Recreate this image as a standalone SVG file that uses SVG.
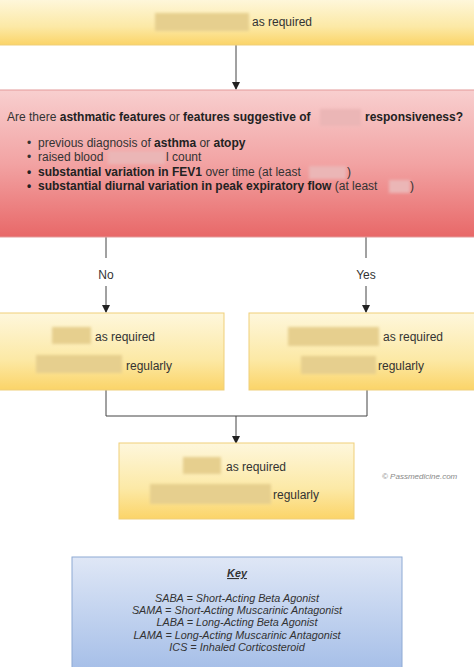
<svg xmlns="http://www.w3.org/2000/svg" width="474" height="667" viewBox="0 0 474 667">
<defs>
<linearGradient id="gy" x1="0" y1="0" x2="0" y2="1"><stop offset="0" stop-color="#fef7dc"/><stop offset="0.6" stop-color="#fce9a6"/><stop offset="1" stop-color="#fbd468"/></linearGradient>
<linearGradient id="gr" x1="0" y1="0" x2="0" y2="1"><stop offset="0" stop-color="#f8cfcf"/><stop offset="0.5" stop-color="#f2a3a3"/><stop offset="1" stop-color="#e86868"/></linearGradient>
<linearGradient id="gb" x1="0" y1="0" x2="0" y2="1"><stop offset="0" stop-color="#dfe7f6"/><stop offset="1" stop-color="#a6bfe8"/></linearGradient>
<filter id="blur" x="-20%" y="-40%" width="140%" height="180%"><feGaussianBlur stdDeviation="1.5"/></filter>
<marker id="arr" markerWidth="8" markerHeight="8" refX="7" refY="4" orient="auto" markerUnits="userSpaceOnUse"><path d="M0,0 L8,4 L0,8 z" fill="#222"/></marker>
</defs>
<style>
text{font-family:"Liberation Sans",Arial,sans-serif;fill:#333}
.t{font-size:12px}
.q{font-size:12px}
.b{font-weight:bold;fill:#222}
.yb{fill:url(#gy);stroke:#efcf7a;stroke-width:1}
.by{fill:#e6cf8e;filter:url(#blur)}
.br{fill:#ebb6b6;filter:url(#blur)}
.k{font-size:10.8px;font-style:italic;text-anchor:middle}
.ln{fill:none;stroke:#444;stroke-width:1}
</style>
<rect width="474" height="667" fill="#fff"/>
<g id="connectors">
<path class="ln" d="M236,45 V89" marker-end="url(#arr)"/>
<path class="ln" d="M106,237 V258 M106,286 V312" marker-end="url(#arr)"/>
<path class="ln" d="M366,237 V258 M366,286 V312" marker-end="url(#arr)"/>
<path class="ln" d="M106,390 V416 H367 V390"/>
<path class="ln" d="M236,416 V443" marker-end="url(#arr)"/>
<text class="t" x="106" y="279" text-anchor="middle" font-size="13">No</text>
<text class="t" x="366" y="279" text-anchor="middle" font-size="13">Yes</text>
</g>
<g id="n-top">
<rect class="yb" x="-1" y="-1" width="476" height="46"/>
<rect class="by" x="155" y="13" width="94" height="18"/>
<text class="t" x="252" y="26">as required</text>
</g>
<g id="n-question">
<rect x="-1" y="90" width="476" height="147" fill="url(#gr)" stroke="#e39a9a"/>
<rect class="br" x="320" y="109" width="41" height="17"/>
<text class="q" x="7" y="121">Are there <tspan class="b">asthmatic features</tspan> or <tspan class="b">features suggestive of</tspan></text>
<text class="q b" x="365" y="121">responsiveness?</text>
<g class="q">
<text x="27" y="147">•</text><text x="27" y="161">•</text><text x="27" y="176" class="b">•</text><text x="27" y="190" class="b">•</text>
</g>
<text class="q" x="38" y="147">previous diagnosis of <tspan class="b">asthma</tspan> or <tspan class="b">atopy</tspan></text>
<rect class="br" x="108" y="151" width="57" height="13"/>
<text class="q" x="38" y="161">raised blood</text>
<text class="q" x="166" y="161">l count</text>
<rect class="br" x="309" y="166" width="37" height="13"/>
<text class="q" x="38" y="176"><tspan class="b">substantial variation in FEV1</tspan> over time (at least</text>
<text class="q" x="347" y="176">)</text>
<rect class="br" x="389" y="180" width="21" height="13"/>
<text class="q" x="38" y="190"><tspan class="b">substantial diurnal variation in peak expiratory flow</tspan> (at least</text>
<text class="q" x="410" y="190">)</text>
</g>
<g id="n-no">
<rect class="yb" x="-1" y="313" width="225" height="77"/>
<rect class="by" x="52" y="327" width="39" height="17"/>
<text class="t" x="95" y="341">as required</text>
<rect class="by" x="36" y="355" width="86" height="18"/>
<text class="t" x="126" y="370">regularly</text>
</g>
<g id="n-yes">
<rect class="yb" x="249" y="313" width="226" height="77"/>
<rect class="by" x="288" y="327" width="91" height="19"/>
<text class="t" x="383" y="341">as required</text>
<rect class="by" x="301" y="356" width="75" height="18"/>
<text class="t" x="378" y="370">regularly</text>
</g>
<g id="n-final">
<rect class="yb" x="119" y="443" width="235" height="76"/>
<rect class="by" x="183" y="457" width="38" height="17"/>
<text class="t" x="226" y="471">as required</text>
<rect class="by" x="150" y="484" width="121" height="20"/>
<text class="t" x="273" y="499">regularly</text>
</g>
<text x="382" y="479" font-size="8" font-style="italic" style="fill:#888">© Passmedicine.com</text>
<g id="n-key">
<rect x="72" y="557" width="330" height="112" fill="url(#gb)" stroke="#8eaad4"/>
<text class="k" x="237" y="577" font-weight="bold" text-decoration="underline">Key</text>
<text class="k" x="237" y="602">SABA = Short-Acting Beta Agonist</text>
<text class="k" x="237" y="614">SAMA = Short-Acting Muscarinic Antagonist</text>
<text class="k" x="237" y="626">LABA = Long-Acting Beta Agonist</text>
<text class="k" x="237" y="639">LAMA = Long-Acting Muscarinic Antagonist</text>
<text class="k" x="237" y="651">ICS = Inhaled Corticosteroid</text>
</g>
</svg>
